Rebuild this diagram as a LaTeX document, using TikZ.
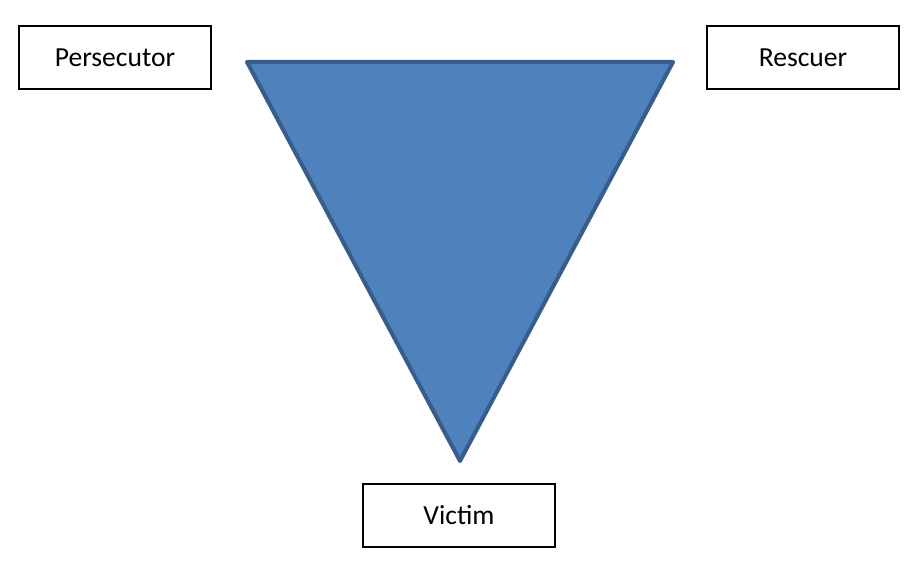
\documentclass[tikz,border=0pt]{standalone}
\usepackage{fontspec}
\setmainfont{Carlito}
\usetikzlibrary{positioning}
\definecolor{trifill}{HTML}{4F81BD}
\definecolor{triline}{HTML}{385D8A}

\begin{document}
\begin{tikzpicture}[
rolebox/.style={rectangle, draw=black, line width=0.85pt, fill=white, minimum width=3.84cm, minimum height=1.26cm, font=\fontsize{15.7}{19}\selectfont},
triangle/.style={fill=trifill, draw=triline, line width=2.3pt, line join=round},
]
\useasboundingbox (0,0) rectangle (18.4,-11.32);

\node[rolebox]          (persecutor)   at (2.3,-1.15)     {Persecutor};
\node[rolebox]          (rescuer)      at (16.06,-1.15)   {Rescuer};
\node[rolebox]          (victim)       at (9.18,-10.31)   {Victim};

\coordinate (tl) at (4.94,-1.24);
\coordinate (tr) at (13.46,-1.24);
\coordinate (bt) at (9.2,-9.22);

\draw[triangle] (tl) -- (tr) -- (bt) -- cycle;

\end{tikzpicture}
\end{document}
